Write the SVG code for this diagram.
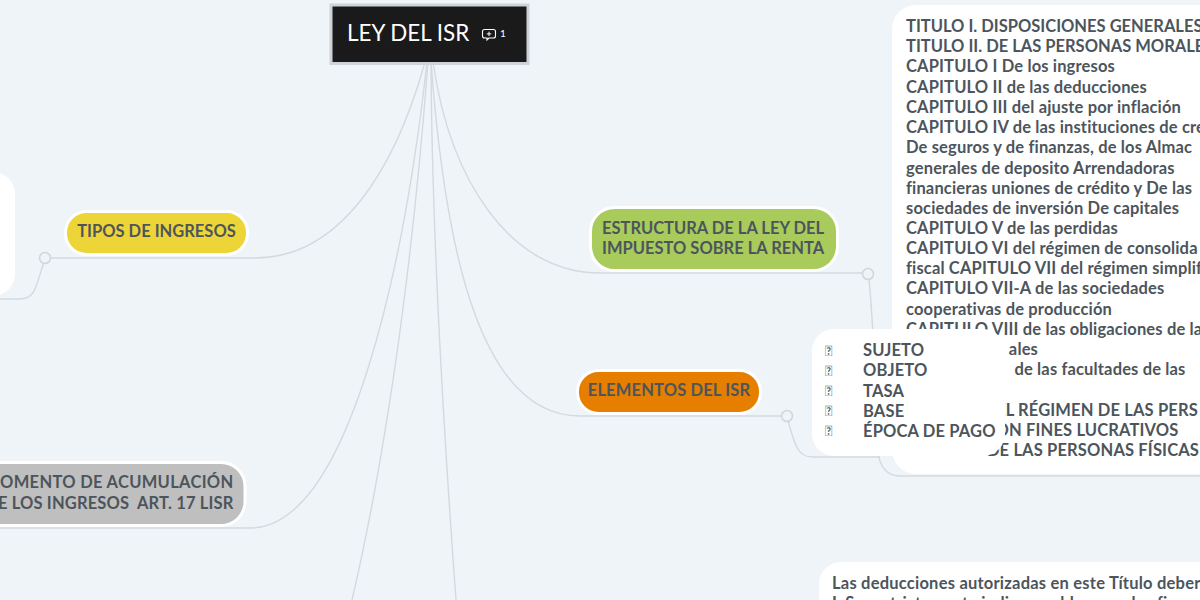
<svg xmlns="http://www.w3.org/2000/svg" width="1200" height="600" viewBox="0 0 1200 600">
<style>
text{font-family:"Lato","Noto Sans",sans-serif;fill:#4d555c;font-size:16.500px;letter-spacing:.15px;font-weight:700}
.c{fill:none;stroke:#d3d9de;stroke-width:1.400}
.d{fill:#eff4f8;stroke:#d0d6db;stroke-width:1.600}
.w{fill:#fff}
.p{stroke:#fff;stroke-width:3}
.t{font-size:14px;font-weight:400;letter-spacing:0}
.u{letter-spacing:0}
</style>
<rect width="1200" height="600" fill="#eff4f8"/>
<g id="connectors">
<path class="c" d="M425 62C395 170 340 258 255 258H45"/>
<path class="c" d="M44 262C36 285 36 299 20 299H0"/>
<path class="c" d="M427 62C405 260 350 528 250 528H0"/>
<path class="c" d="M428 62C410 300 380 480 352 600"/>
<path class="c" d="M431 62C432 250 445 450 456 600"/>
<path class="c" d="M433 62C450 180 510 273 600 273H868"/>
<path class="c" d="M431 62C445 250 480 416 580 416H787"/>
<path class="c" d="M869 279C874 330 876 400 878 450C879 468 888 476 900 476H1200"/>
<path class="c" d="M788 421C794 440 796 457 812 457H880"/>
<circle class="d" cx="45" cy="258" r="5.500"/>
<circle class="d" cx="868" cy="274" r="5.500"/>
<circle class="d" cx="787" cy="416" r="5.500"/>
</g>
<g id="root">
<rect x="331" y="5" width="197" height="58.500" fill="#1a1a1a" stroke="#cdd3d8" stroke-width="3"/>
<text x="347" y="41" style="font-size:22.400px;font-weight:400;letter-spacing:0;fill:#fff">LEY DEL ISR</text>
<path d="M484.500 29.500h9a2 2 0 0 1 2 2v4.500a2 2 0 0 1-2 2h-4.500l-2 2v-2h-2.500a2 2 0 0 1-2-2v-4.500a2 2 0 0 1 2-2z" fill="none" stroke="#fff" stroke-width="1.100"/>
<path d="M489 31.700v4.400M486.800 33.900h4.400" stroke="#fff" stroke-width="1"/>
<text x="500" y="37" style="font-size:10px;font-weight:400;letter-spacing:0;fill:#fff">1</text>
</g>
<g id="tipos-de-ingresos">
<rect class="w" x="-40" y="172" width="55" height="124" rx="22"/>
<rect class="p" x="65.500" y="211.500" width="182" height="43" rx="21" fill="#edd537"/>
<text class="u" x="156.500" y="237" text-anchor="middle">TIPOS DE INGRESOS</text>
</g>
<g id="momento">
<rect class="p" x="-60" y="462.500" width="305" height="63" rx="24" fill="#bfbfbf"/>
<text x="233.500" y="488" text-anchor="end" style="letter-spacing:.3px">MOMENTO DE ACUMULACIÓN</text>
<text x="233.500" y="509" text-anchor="end" xml:space="preserve">DE LOS INGRESOS  ART. 17 LISR</text>
</g>
<g id="estructura">
<rect class="p" x="590.500" y="207.500" width="247" height="63" rx="24" fill="#a8cb5c"/>
<text class="u" x="602" y="234">ESTRUCTURA DE LA LEY DEL</text>
<text class="u" x="602" y="254">IMPUESTO SOBRE LA RENTA</text>
</g>
<g id="estructura-detalle">
<rect class="w" x="892" y="5" width="360" height="469" rx="24"/>
<text class="u" x="906" y="32">TITULO I. DISPOSICIONES GENERALES</text>
<text class="u" x="906" y="52">TITULO II. DE LAS PERSONAS MORALES</text>
<text x="906" y="72">CAPITULO I De los ingresos</text>
<text x="906" y="93">CAPITULO II de las deducciones</text>
<text x="906" y="113">CAPITULO III del ajuste por inflación</text>
<text x="906" y="133">CAPITULO IV de las instituciones de cre</text>
<text x="906" y="153">De seguros y de finanzas, de los Almac</text>
<text x="906" y="174">generales de deposito Arrendadoras</text>
<text x="906" y="194">financieras uniones de crédito y De las</text>
<text x="906" y="214">sociedades de inversión De capitales</text>
<text x="906" y="234">CAPITULO V de las perdidas</text>
<text x="906" y="254">CAPITULO VI del régimen de consolida</text>
<text x="906" y="274">fiscal CAPITULO VII del régimen simplif</text>
<text x="906" y="294">CAPITULO VII-A de las sociedades</text>
<text x="906" y="315">cooperativas de producción</text>
<text x="906" y="335">CAPITULO VIII de las obligaciones de la</text>
<text x="1038" y="355" text-anchor="end">ales</text>
<text x="1185.500" y="375" text-anchor="end">de las facultades de las</text>
<text x="996" y="416">EL RÉGIMEN DE LAS PERS</text>
<text x="1178.500" y="436" text-anchor="end">ON FINES LUCRATIVOS</text>
<text x="1199" y="456" text-anchor="end">DE LAS PERSONAS FÍSICAS</text>
</g>
<g id="elementos">
<rect class="p" x="577.500" y="370.500" width="183" height="43" rx="21" fill="#e67e00"/>
<text x="669" y="396" text-anchor="middle">ELEMENTOS DEL ISR</text>
</g>
<g id="elementos-detalle">
<rect class="w" x="812" y="329" width="193" height="127" rx="22"/>
<text class="t" x="825" y="356">&#xF0B7;</text>
<text class="t" x="825" y="376">&#xF0B7;</text>
<text class="t" x="825" y="396">&#xF0B7;</text>
<text class="t" x="825" y="416">&#xF0B7;</text>
<text class="t" x="825" y="436">&#xF0B7;</text>
<text x="863" y="356">SUJETO</text>
<text x="863" y="376">OBJETO</text>
<text x="863" y="397">TASA</text>
<text x="863" y="417">BASE</text>
<text x="863" y="437">ÉPOCA DE PAGO</text>
</g>
<g id="deducciones">
<rect class="w" x="819" y="562" width="420" height="80" rx="22"/>
<text x="832" y="589" style="letter-spacing:.22px">Las deducciones autorizadas en este Título deber</text>
<text x="832" y="609">I. Ser estrictamente indispensables para los fines</text>
</g>
</svg>
